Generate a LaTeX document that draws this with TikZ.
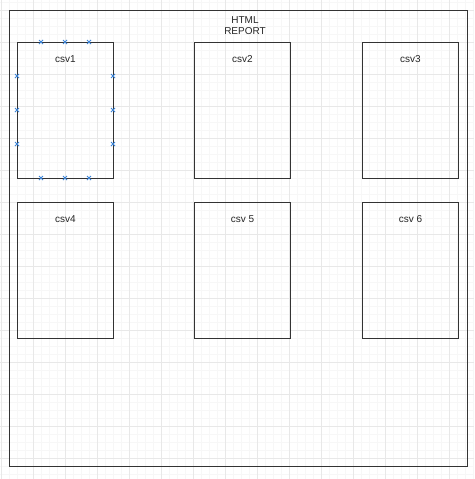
\documentclass[tikz,border=0pt]{standalone}
\usepackage{fontspec}
\setmainfont{Liberation Sans}
\definecolor{minorgrid}{HTML}{F7F7F7}
\definecolor{majorgrid}{HTML}{E8E8E8}
\definecolor{boxline}{HTML}{333333}
\definecolor{handle}{HTML}{3D85D8}
\tikzset{
  csvbox/.style={draw=boxline, line width=1pt, minimum width=96pt, minimum height=136pt, inner sep=0pt, anchor=north west},
  lbl/.style={font=\fontsize{10}{11.5}\selectfont, text=black!85, inner sep=0pt},
  hmark/.style={draw=handle, line width=0.9pt}
}
\newcommand{\hcross}[1]{\draw[hmark] ($(#1)+(-2,-2)$) -- ($(#1)+(2,2)$) ($(#1)+(-2,2)$) -- ($(#1)+(2,-2)$);}
\usetikzlibrary{calc}
\begin{document}
\begin{tikzpicture}[x=1pt,y=-1pt]
\useasboundingbox (0,0) rectangle (474,479);
\fill[white] (0,0) rectangle (474,479);
% grid
\foreach \x in {1,9,...,473} \draw[minorgrid, line width=0.6pt] (\x,0) -- (\x,479);
\foreach \y in {2,10,...,478} \draw[minorgrid, line width=0.6pt] (0,\y) -- (474,\y);
\foreach \x in {1,33,...,473} \draw[majorgrid, line width=0.6pt] (\x,0) -- (\x,479);
\foreach \y in {10,42,...,478} \draw[majorgrid, line width=0.6pt] (0,\y) -- (474,\y);
% outer frame
\node[draw=boxline, line width=1.2pt, minimum width=458pt, minimum height=456pt, inner sep=0pt, anchor=north west] (report) at (9,10) {};
\node[lbl, align=center, anchor=north] (title) at (245,16) {HTML\\REPORT};
% boxes
\node[csvbox] (c1) at (17,42) {};
\node[csvbox] (c2) at (194,42) {};
\node[csvbox] (c3) at (362,42) {};
\node[csvbox] (c4) at (17,202) {};
\node[csvbox] (c5) at (194,202) {};
\node[csvbox] (c6) at (362,202) {};
\node[lbl] (t1) at ($(c1.north)+(0,17)$) {csv1};
\node[lbl] (t2) at ($(c2.north)+(0,17)$) {csv2};
\node[lbl] (t3) at ($(c3.north)+(0,17)$) {csv3};
\node[lbl] (t4) at ($(c4.north)+(0,17)$) {csv4};
\node[lbl] (t5) at ($(c5.north)+(0,17)$) {csv 5};
\node[lbl] (t6) at ($(c6.north)+(0,17)$) {csv 6};
% selection handles on csv1
\foreach \x in {41,65,89} {
  \coordinate (ht) at (\x,42); \hcross{ht}
  \coordinate (hb) at (\x,178); \hcross{hb}
}
\foreach \y in {76,110,144} {
  \coordinate (hl) at (17,\y); \hcross{hl}
  \coordinate (hr) at (113,\y); \hcross{hr}
}
\end{tikzpicture}
\end{document}
